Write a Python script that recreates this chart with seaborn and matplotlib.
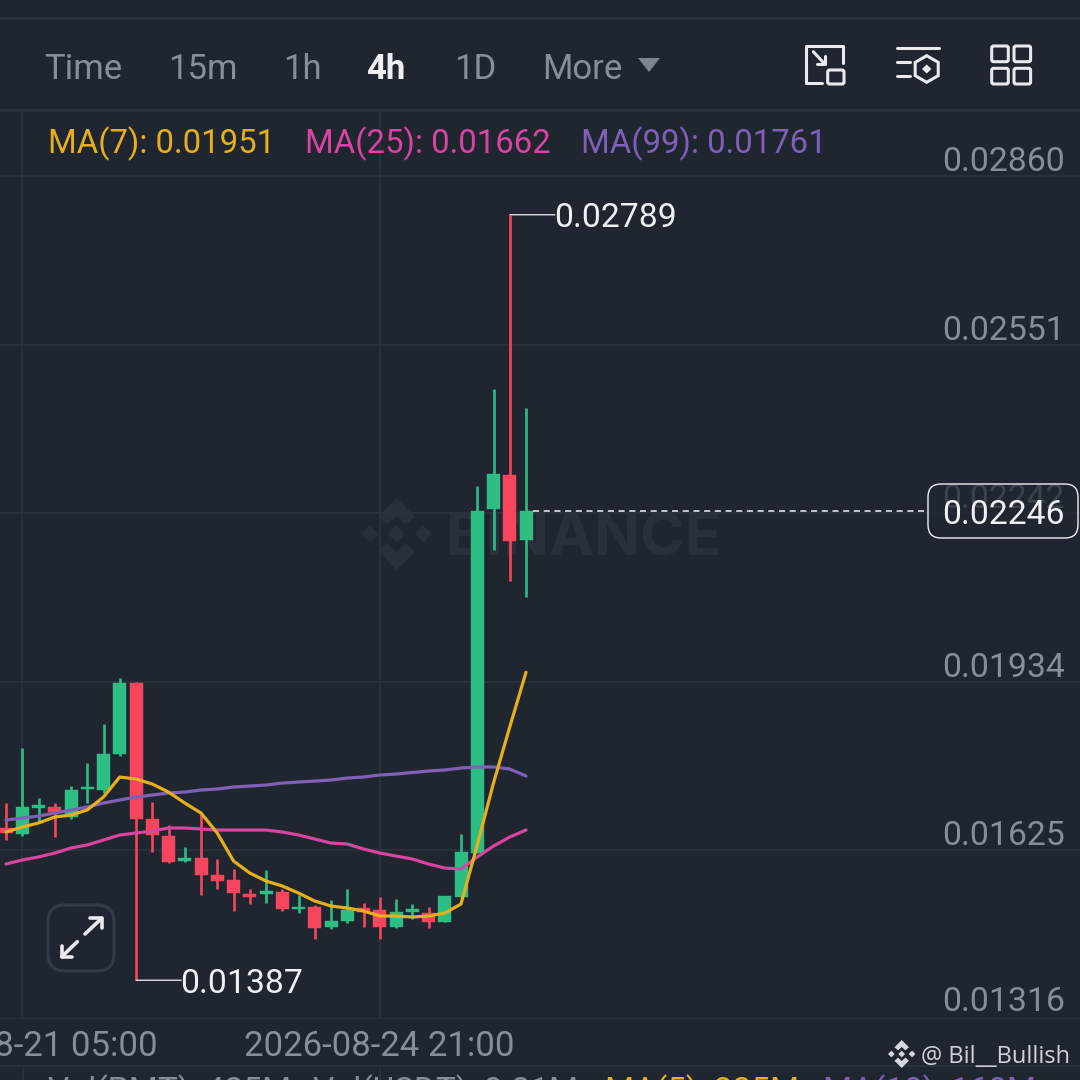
import numpy as np
import pandas as pd
import matplotlib
matplotlib.use("Agg")
import matplotlib.pyplot as plt
import seaborn as sns
from matplotlib.patches import FancyBboxPatch, Polygon, RegularPolygon
from matplotlib.transforms import ScaledTranslation

# Data
opens = [0.016658, 0.016548, 0.017024, 0.017043, 0.016860, 0.017372, 0.017354, 0.018013, 0.019314, 0.016823,
         0.016511, 0.016054, 0.016109, 0.015797, 0.015706, 0.015449, 0.015449, 0.015486, 0.015174, 0.015211,
         0.014845, 0.014955, 0.015193, 0.015156, 0.014845, 0.015120, 0.015101, 0.014936, 0.015394, 0.016200,
         0.022501, 0.023124, 0.021933]
highs = [0.017116, 0.018123, 0.017207, 0.017116, 0.017427, 0.017849, 0.018563, 0.019405, 0.019332, 0.017134,
         0.016713, 0.016310, 0.016914, 0.016091, 0.015907, 0.015541, 0.015889, 0.015541, 0.015431, 0.015248,
         0.015339, 0.015541, 0.015284, 0.015394, 0.015358, 0.015266, 0.015211, 0.015412, 0.016548, 0.022922,
         0.024699, 0.027890, 0.024351]
lows = [0.016438, 0.016511, 0.016768, 0.016493, 0.016823, 0.017116, 0.017299, 0.017977, 0.013870, 0.016218,
        0.016017, 0.016035, 0.015431, 0.015541, 0.015138, 0.015266, 0.015284, 0.015138, 0.015101, 0.014625,
        0.014808, 0.014918, 0.014845, 0.014625, 0.014826, 0.014991, 0.014826, 0.014936, 0.015394, 0.016200,
        0.021750, 0.021182, 0.020889]
closes = [0.016566, 0.017043, 0.017079, 0.016951, 0.017354, 0.017409, 0.018013, 0.019314, 0.016823, 0.016530,
          0.016035, 0.016109, 0.015797, 0.015687, 0.015467, 0.015394, 0.015504, 0.015174, 0.015211, 0.014826,
          0.014955, 0.015156, 0.015120, 0.014845, 0.015120, 0.015174, 0.014936, 0.015412, 0.016218, 0.022464,
          0.023142, 0.021915, 0.022460]
ma7 = [0.016585, 0.016676, 0.016750, 0.016860, 0.016896, 0.016988, 0.017226, 0.017592, 0.017555, 0.017464,
       0.017317, 0.017116, 0.016933, 0.016566, 0.016054, 0.015834, 0.015687, 0.015596, 0.015467, 0.015321,
       0.015229, 0.015193, 0.015138, 0.015046, 0.015046, 0.015028, 0.015046, 0.015101, 0.015266, 0.016347,
       0.017482, 0.018508, 0.019510]
ma25 = [0.015999, 0.016072, 0.016128, 0.016200, 0.016292, 0.016347, 0.016438, 0.016530, 0.016566, 0.016603,
        0.016658, 0.016658, 0.016640, 0.016621, 0.016621, 0.016621, 0.016621, 0.016585, 0.016530, 0.016456,
        0.016383, 0.016365, 0.016273, 0.016200, 0.016145, 0.016091, 0.015999, 0.015925, 0.015907, 0.016128,
        0.016328, 0.016493, 0.016621]
ma99 = [0.016804, 0.016840, 0.016877, 0.016933, 0.016988, 0.017043, 0.017116, 0.017171, 0.017226, 0.017262,
        0.017299, 0.017317, 0.017354, 0.017372, 0.017409, 0.017427, 0.017445, 0.017482, 0.017500, 0.017518,
        0.017537, 0.017573, 0.017592, 0.017629, 0.017647, 0.017675, 0.017702, 0.017721, 0.017757, 0.017776,
        0.017776, 0.017739, 0.017611]
price_ticks = [0.01316, 0.01625, 0.01934, 0.02242, 0.02551, 0.02860]
time_ticks = [1, 23]
time_labels = ["2026-08-21 05:00", "2026-08-24 21:00"]

BG = "#1f2630"
GRID = "#2c333f"
MUTED = "#868e9b"
WHITE = "#eef0f3"
GREEN = "#2ebd85"
RED = "#f6465d"
YELLOW = "#e6b01c"
PINK = "#d8449f"
PURPLE = "#7f60b8"
ICON = "#e8eaee"
SIZE = 24.3

sns.set_theme(style="dark", rc={"figure.facecolor": BG, "axes.facecolor": "none"})
plt.rcParams["font.family"] = ["Roboto", "DejaVu Sans"]

fig = plt.figure(figsize=(10.8, 10.8), dpi=100)


def pixel_axes(zorder):
    a = fig.add_axes([0, 0, 1, 1], zorder=zorder)
    a.set_xlim(0, 1080)
    a.set_ylim(1080, 0)
    a.axis("off")
    return a


def binance_logo(a, cx, cy, r, color):
    # centre, side diamonds and the two chevrons
    for dx, s in [(0, 0.24), (-0.74, 0.24), (0.74, 0.24)]:
        a.add_patch(Polygon([(cx + (dx - s) * r, cy), (cx + dx * r, cy - s * r),
                             (cx + (dx + s) * r, cy), (cx + dx * r, cy + s * r)], color=color, lw=0))
    pts = [(-0.52, 0.48), (-0.26, 0.26), (0, 0.5), (0.26, 0.26), (0.52, 0.48), (0, 1)]
    for sign in (-1, 1):
        a.add_patch(Polygon([(cx + px * r, cy + sign * py * r) for px, py in pts], color=color, lw=0))


back = pixel_axes(0)
binance_logo(back, 396.5, 534, 36, "#2a303b")
back.text(446, 555, "BINANCE", fontsize=43.4, fontweight="bold", color="#2a303b", va="baseline",
          family=["Inter", "DejaVu Sans"])
back.plot([0, 1080], [18, 18], color=GRID, lw=2)
back.plot([0, 1080], [110, 110], color=GRID, lw=2)
back.plot([0, 1080], [1066, 1066], color=GRID, lw=1.2)
for vx in (22.5, 380):
    back.plot([vx, vx], [1066, 1080], color=GRID, lw=1.2)

# Price chart, full width between the header and the time axis
ax = fig.add_axes([0, 61 / 1080, 1, 909 / 1080], zorder=1)
ax.set_xlim(-6 / 16.25, 1074 / 16.25)
ax.set_ylim(0.01316, 0.029809)

x = np.arange(len(closes))
candle_colors = [GREEN if c >= o else RED for o, c in zip(opens, closes)]
ax.vlines(x, lows, highs, colors=candle_colors, lw=1.9, zorder=3)
ax.bar(x, np.abs(np.array(closes) - np.array(opens)), bottom=np.minimum(opens, closes),
       width=0.8, color=candle_colors, edgecolor=candle_colors, linewidth=0.3, zorder=3)

ma_df = pd.DataFrame({"i": np.tile(x, 3), "price": ma7 + ma25 + ma99,
                      "ma": ["7"] * len(x) + ["25"] * len(x) + ["99"] * len(x)})
sns.lineplot(data=ma_df, x="i", y="price", hue="ma", palette={"7": YELLOW, "25": PINK, "99": PURPLE},
             hue_order=["99", "25", "7"], linewidth=2.3, legend=False, ax=ax, zorder=4, errorbar=None)
ax.set_xlabel("")
ax.set_ylabel("")

for s in ax.spines.values():
    s.set_visible(False)
ax.grid(True, color=GRID, lw=1.2, zorder=0)
ax.set_axisbelow(True)
ax.set_xticks(time_ticks, time_labels)
ax.set_yticks(price_ticks, [f"{p:.5f}" for p in price_ticks])
ax.yaxis.tick_right()
ax.tick_params(axis="x", length=0, pad=8, labelsize=25, labelcolor=MUTED)
ax.tick_params(axis="y", length=0, pad=-11, labelsize=SIZE, labelcolor=MUTED)
for n, lab in enumerate(ax.get_yticklabels()):
    lab.set_ha("right")
    lab.set_va("bottom")
    # the lowest label sits a little higher than the rest
    nudge = 1 / 100 if n == 0 else -2 / 100
    lab.set_transform(lab.get_transform() + ScaledTranslation(0, nudge, fig.dpi_scale_trans))

# High / low call-outs
i_hi = int(np.argmax(highs))
i_lo = int(np.argmin(lows))
for i, val in [(i_hi, highs[i_hi]), (i_lo, lows[i_lo])]:
    ax.annotate("", xy=(i, val), xytext=(32.5, 0), textcoords="offset points", zorder=6,
                arrowprops=dict(arrowstyle="-", color=WHITE, lw=0.9, shrinkA=0, shrinkB=0))
    ax.annotate(f"{val:.5f}", xy=(i, val), xytext=(32, 0), textcoords="offset points",
                color=WHITE, fontsize=SIZE, va="center_baseline", ha="left", zorder=6)

# Last price dashed line
ax.plot([32.4, 56.7], [closes[-1], closes[-1]], color=WHITE, lw=1.1, ls=(0, (4, 3)), zorder=5)

top = pixel_axes(2)
top.add_patch(FancyBboxPatch((928, 484), 150, 54, boxstyle="round,pad=0,rounding_size=13",
                             fc=BG, alpha=0.72, lw=0))
top.add_patch(FancyBboxPatch((928, 484), 150, 54, boxstyle="round,pad=0,rounding_size=13",
                             fc="none", ec=WHITE, lw=1.0))
top.text(1065, 524, f"{closes[-1]:.5f}", color=WHITE, fontsize=SIZE, ha="right", va="baseline")

# Header tabs
tabs = [("Time", 44, MUTED, "normal"), ("15m", 168, MUTED, "normal"), ("1h", 283, MUTED, "normal"),
        ("4h", 366, WHITE, "bold"), ("1D", 454, MUTED, "normal"), ("More", 542, MUTED, "normal")]
for label, tx, col, weight in tabs:
    top.text(tx, 79, label, color=col, fontsize=25, fontweight=weight, va="baseline")
top.add_patch(Polygon([(638, 58), (660, 58), (649, 72)], color="#7d8592", lw=0))

# MA legend
legend_size = 23.7
top.text(48, 153, f"MA(7): {ma7[-1]:.5f}", color=YELLOW, fontsize=legend_size, va="baseline")
top.text(305, 153, f"MA(25): {ma25[-1]:.5f}", color=PINK, fontsize=legend_size, va="baseline")
top.text(581, 153, f"MA(99): {ma99[-1]:.5f}", color=PURPLE, fontsize=legend_size, va="baseline")


# Header icons
def stroke(xs, ys, lw=2.2, color=ICON):
    top.plot(xs, ys, color=color, lw=lw, solid_capstyle="round", solid_joinstyle="round")


def box(x0, y0, w, h, rad=2, lw=2.2, color=ICON):
    top.add_patch(FancyBboxPatch((x0, y0), w, h, boxstyle=f"round,pad=0,rounding_size={rad}",
                                 fc="none", ec=color, lw=lw))


stroke([843.3, 843.3, 806, 806, 821.7], [63.3, 46, 46, 83.3, 83.3])
box(827.7, 70, 16.3, 14)
stroke([813.3, 825], [51.7, 64.3])
stroke([816.7, 825, 825], [64.3, 64.3, 56])

stroke([896.7, 939.3], [47.7, 47.7])
stroke([896.7, 910], [61.7, 61.7])
stroke([896.7, 910], [75.7, 75.7])
top.add_patch(RegularPolygon((926.7, 69), 6, radius=13.3, fc="none", ec=ICON, lw=2.2))
top.add_patch(Polygon([(922, 69), (926.7, 64.5), (931.4, 69), (926.7, 73.5)], color=ICON, lw=0))

for bx in (991.7, 1014):
    for by in (46, 68.3):
        box(bx, by, 16.6, 15.7)

# Expand button
box(48, 905, 66, 66, rad=17, lw=2.3, color="#333a47")
stroke([85, 101.7], [934, 918.3], lw=2.6)
stroke([90, 101.7, 101.7], [918.3, 918.3, 928], lw=2.6)
stroke([77.3, 61.7], [941.7, 956.7], lw=2.6)
stroke([61.7, 61.7, 72], [946, 956.7, 956.7], lw=2.6)

# Author tag
binance_logo(top, 901.7, 1054, 14, "#d5d8dc")
top.text(921, 1063, "@ Bil__Bullish", color="#cfd2d6", fontsize=17, va="baseline",
         family=["Open Sans", "DejaVu Sans"])

# Volume row, cut off by the picture edge
for tx, label, col in [(48, "Vol(PMT): 425M", MUTED), (313, "Vol(USDT): 8.21M", MUTED),
                       (605, "MA(5): 325M", YELLOW), (823, "MA(10): 160M", PURPLE)]:
    top.text(tx, 1101, label, color=col, fontsize=24, va="baseline", clip_on=False)

fig.savefig("out.png", dpi=100, facecolor=BG)
